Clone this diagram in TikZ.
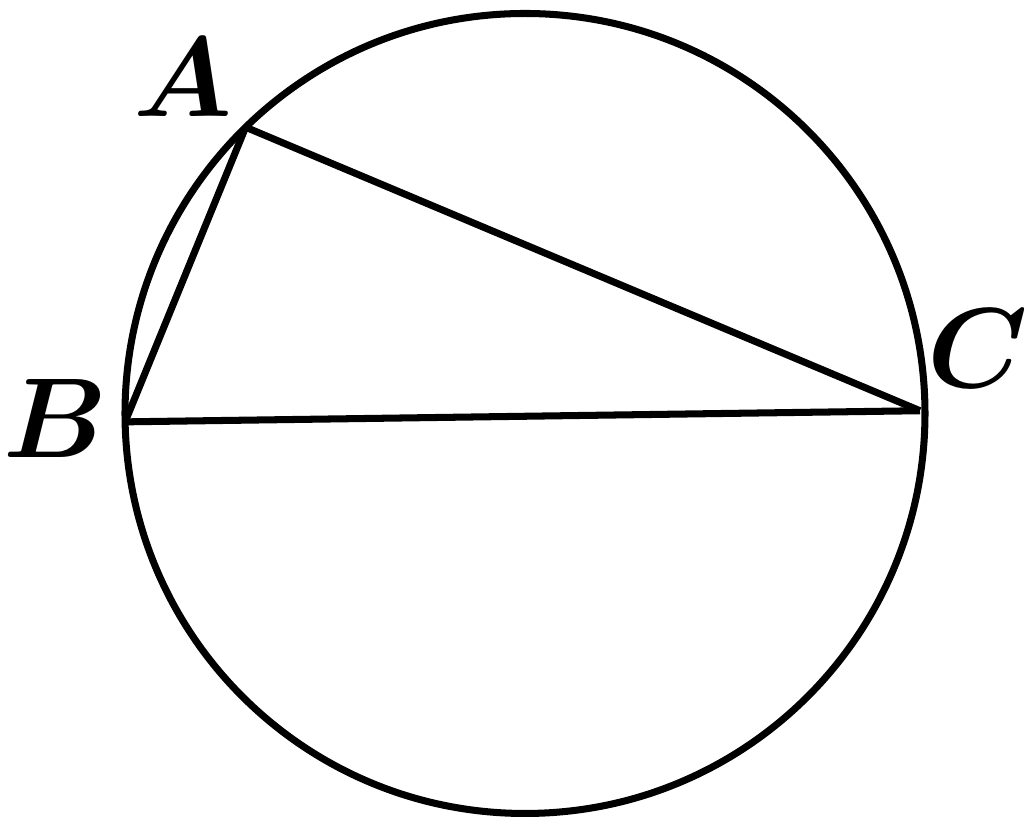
\documentclass[tikz,border=0pt]{standalone}
\usepackage{amsmath,amssymb}
\usepackage{tikz}
\usetikzlibrary{calc}
\tikzset{lbl/.style={inner sep=0pt,scale=1.3,transform shape,font=\Huge\boldmath}}

\begin{document}
\begin{tikzpicture}[line width=2pt]
        \useasboundingbox (0,0) rectangle (10.24,8.29);
        \coordinate (O) at (5.25,4.155);
        \draw (O) circle (4);
        \coordinate (A) at ($(O)+(134.3:4)$);
        \coordinate (B) at ($(O)+(181.2:4)$);
        \coordinate (C) at ($(O)+(0.4:3.95)$);
        \node[lbl] (LA) at (1.83,7.51) {$A$};
        \node[lbl] (LB) at (0.55,4.10) {$B$};
        \node[lbl] (LC) at (9.78,4.80) {$C$};
        \path (A) edge (B);
        \path (B) edge (C);
        \path (A) edge (C);
        \end{tikzpicture}
\end{document}
